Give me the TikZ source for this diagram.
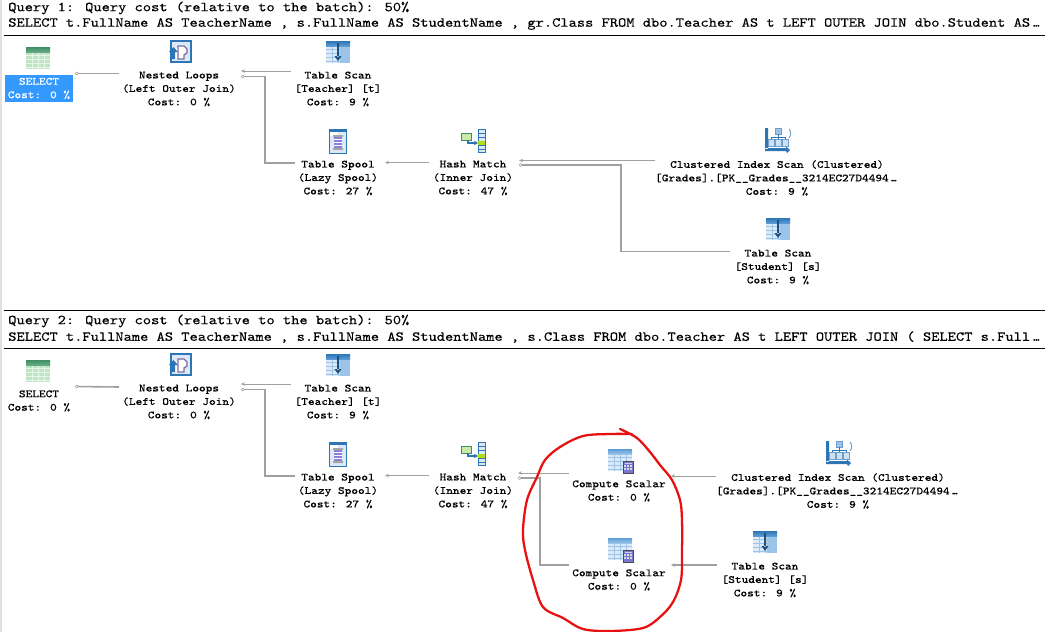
\documentclass[tikz,border=0pt]{standalone}
\usepackage{fontspec}
\setmainfont[FakeStretch=1.143,FakeBold=0.25]{Latin Modern Mono}
\usetikzlibrary{calc,arrows.meta}
\newcommand{\tightdots}{.\kern-.45em.\kern-.45em.}
\definecolor{conn}{HTML}{A0A0A0}
\definecolor{selblue}{HTML}{3399FF}
\definecolor{icoblue}{HTML}{2E75B6}
\definecolor{icolight}{HTML}{DCEAF8}
\definecolor{icomid}{HTML}{9CC3E8}
\definecolor{icohead}{HTML}{5B9BD5}
\definecolor{icogreen}{HTML}{BFE6C4}
\definecolor{icogrid}{HTML}{E8F6EA}
\definecolor{icodark}{HTML}{3F8F66}
\definecolor{icoviolet}{HTML}{8A80D8}
\definecolor{docviolet}{HTML}{7A6E9E}
\definecolor{penred}{HTML}{E81010}
\tikzset{
  x=0.75pt,y=-0.75pt,
  qtext/.style={anchor=west,inner sep=0pt,font=\fontsize{10.3}{12}\selectfont},
  optext/.style={align=center,inner sep=0pt,font=\fontsize{8.25}{10.1}\selectfont,text=black},
  thinconn/.style={draw=conn,line width=0.6pt,-{Stealth[length=3pt,width=2.6pt]}},
  thickconn/.style={draw=conn,line width=1.2pt,-{Circle[length=2.6pt,width=2.6pt,open,fill=white,line width=0.4pt]}},
  rule/.style={draw=black,line width=0.75pt},
}
% icons, all centred on the given point
\newcommand{\tablegrid}[2]{% fill, line
  \fill[#1] (-12,-11) rectangle (12,11);
  \foreach \gy in {-3,1,5,9} \draw[#2,line width=0.3pt] (-12,\gy) -- (12,\gy);
  \foreach \gx in {-6,0,6} \draw[#2,line width=0.3pt] (\gx,-6) -- (\gx,11);
}
\newcommand{\iconselect}[2]{\begin{scope}[shift={(#1,#2)}]
  \tablegrid{icogreen}{icogrid}
  \shade[top color=icodark,bottom color=icodark!70!icogreen] (-12,-11) rectangle (12,-6);
\end{scope}}
\newcommand{\iconscan}[2]{\begin{scope}[shift={(#1,#2)}]
  \tablegrid{icolight}{icomid}
  \fill[icomid] (2,-6) rectangle (12,11);
  \shade[top color=icoblue,bottom color=icohead] (-12,-11) rectangle (12,-6);
  \fill[icoblue!70!black] (-1,-9) rectangle (1,5) (-3.5,4) -- (3.5,4) -- (0,9) -- cycle;
\end{scope}}
\newcommand{\iconloops}[2]{\begin{scope}[shift={(#1,#2)}]
  \draw[icoblue,fill=icolight,line width=1pt] (-9,-11) rectangle (11,10);
  \fill[white] (-7,-4) rectangle (-2,7);
  \fill[icoblue] (-6.5,-5) -- (-2,0) -- (-5,0) -- (-5,7) -- (-8,7) -- (-8,0) -- (-11,0) -- cycle;
  \draw[docviolet,fill=white,line width=1pt] (-2,-6) -- (4,-6) -- (7,-3) -- (7,1) -- (4,3) -- (4,7) -- (-2,7) -- cycle;
\end{scope}}
\newcommand{\iconspool}[2]{\begin{scope}[shift={(#1,#2)}]
  \draw[icoblue,fill=icolight,line width=0.7pt] (-8.5,-12) rectangle (8.5,12);
  \fill[icoblue] (-8.5,-12) rectangle (8.5,-9);
  \fill[white] (-8,-9) rectangle (0,-5);
  \fill[gray!70] (-5,-6) rectangle (5,-4) (-5,7) rectangle (5,9);
  \fill[icoviolet] (-4,-4) rectangle (4,7);
  \foreach \gy in {-2,1,4} \draw[white,line width=0.3pt] (-4,\gy) -- (4,\gy);
\end{scope}}
\newcommand{\iconhash}[2]{\begin{scope}[shift={(#1,#2)}]
  \draw[icoblue,fill=icolight,line width=0.5pt] (5,-11.5) rectangle (12,11.5);
  \foreach \gy in {-8,-4,4,8} \draw[icoblue,line width=0.3pt] (5,\gy) -- (12,\gy);
  \fill[yellow!70!green] (5.3,-0.5) rectangle (11.7,3.5);
  \draw[icodark,fill=yellow!40!green!35,line width=0.6pt] (-12,-8) rectangle (-2,-1);
  \draw[icoblue,line width=1.1pt,-{Stealth[length=3pt,width=3.5pt]}] (-5,-1) -- (-5,2) -- (5,2);
\end{scope}}
\newcommand{\iconclustered}[2]{\begin{scope}[shift={(#1,#2)}]
  \fill[icoblue] (-12,-12) rectangle (-9,9) (-12,8) -- (9,8) -- (9,6.5) -- (13,10) -- (10,13) -- (9,11) -- (-12,11) -- cycle;
  \draw[icoblue!70,line width=0.5pt,fill=icomid] (-2,-12) rectangle (4,-6);
  \draw[icoblue,line width=0.6pt] (1,-6) -- (1,-3) (-6,-3) -- (8,-3) (-6,-3) -- (-6,-1) (8,-3) -- (8,-1) (1,-3) -- (1,-1);
  \draw[icoblue!70,line width=0.5pt,fill=icomid!50] (-9,-1) rectangle (-3,6) (-2,-1) rectangle (4,6) (5,-1) rectangle (11,6);
  \draw[icoblue!70,line width=0.7pt] (12,-2) arc[start angle=40,end angle=-40,radius=7];
\end{scope}}
\newcommand{\iconcompute}[2]{\begin{scope}[shift={(#1,#2)}]
  \tablegrid{icolight}{icomid}
  \shade[top color=icohead,bottom color=icomid] (-12,-11) rectangle (12,-6);
  \draw[gray!60!black,fill=gray!50!blue!70,line width=0.4pt] (3,1) rectangle (13,13);
  \foreach \gy in {6,9} \foreach \gx in {5,8,11} \fill[white!70!gray] (\gx-0.8,\gy-0.8) rectangle (\gx+0.8,\gy+0.8);
  \fill[white!80!blue] (4.5,2.5) rectangle (11.5,4.2);
\end{scope}}
\begin{document}
\begin{tikzpicture}
\useasboundingbox (0,0) rectangle (1050,632);
\fill[white] (0,0) rectangle (1050,632);
\fill[black!12] (0,0) rectangle (1.5,632);
% headers
\node[qtext] (q1a) at (8,8) {Query 1: Query cost (relative to the batch): 50\%};
\node[qtext] (q1b) at (8,24) {SELECT t.FullName AS TeacherName , s.FullName AS StudentName , gr.Class FROM dbo.Teacher AS t LEFT OUTER JOIN dbo.Student AS\tightdots};
\draw[rule] (4,35.5) -- (1045,35.5);
\draw[rule] (4,310.5) -- (1045,310.5);
\node[qtext] (q2a) at (8,321) {Query 2: Query cost (relative to the batch): 50\%};
\node[qtext] (q2b) at (8,337) {SELECT t.FullName AS TeacherName , s.FullName AS StudentName , s.Class FROM dbo.Teacher AS t LEFT OUTER JOIN ( SELECT s.Full\tightdots};
\draw[rule] (4,348.5) -- (1045,348.5);
% query 1 icons
\iconselect{38}{58}
\iconloops{180}{52}
\iconscan{338}{52}
\iconspool{338}{141}
\iconhash{473}{141}
\iconclustered{777}{140}
\iconscan{778}{229}
% query 2 icons
\iconselect{38}{371}
\iconloops{180}{365}
\iconscan{338}{365}
\iconspool{338}{454}
\iconhash{473}{454}
\iconcompute{620}{460}
\iconcompute{620}{549}
\iconclustered{838}{453}
\iconscan{765}{542}
% query 1 operators
\fill[selblue] (5,75) rectangle (73,102);
\node[optext,text=white] (sela) at (39,88.5) {SELECT\\Cost: 0 \%};
\node[optext] (nla) at (179,89) {Nested Loops\\(Left Outer Join)\\Cost: 0 \%};
\node[optext] (tsa) at (338,89) {Table Scan\\{[Teacher] [t]}\\Cost: 9 \%};
\node[optext] (spa) at (338,178) {Table Spool\\(Lazy Spool)\\Cost: 27 \%};
\node[optext] (hma) at (473,178) {Hash Match\\(Inner Join)\\Cost: 47 \%};
\node[optext] (cia) at (777,178) {Clustered Index Scan (Clustered)\\{[Grades].[PK\_\_Grades\_\_3214EC27D4494\tightdots}\\Cost: 9 \%};
\node[optext] (tta) at (778,267) {Table Scan\\{[Student] [s]}\\Cost: 9 \%};
% query 2 operators
\node[optext] (selb) at (39,401) {SELECT\\Cost: 0 \%};
\node[optext] (nlb) at (179,402) {Nested Loops\\(Left Outer Join)\\Cost: 0 \%};
\node[optext] (tsb) at (338,402) {Table Scan\\{[Teacher] [t]}\\Cost: 9 \%};
\node[optext] (spb) at (338,491) {Table Spool\\(Lazy Spool)\\Cost: 27 \%};
\node[optext] (hmb) at (473,491) {Hash Match\\(Inner Join)\\Cost: 47 \%};
\node[optext] (csa) at (619,491) {Compute Scalar\\Cost: 0 \%};
\node[optext] (csb) at (619,580) {Compute Scalar\\Cost: 0 \%};
\node[optext] (cib) at (838,491) {Clustered Index Scan (Clustered)\\{[Grades].[PK\_\_Grades\_\_3214EC27D4494\tightdots}\\Cost: 9 \%};
\node[optext] (ttb) at (765,580) {Table Scan\\{[Student] [s]}\\Cost: 9 \%};
% query 1 connectors
\draw[thickconn] ($(nla)+(-60,-15.5)$) -- ($(sela)+(36,-15)$);
\draw[thinconn] ($(tsa)+(-47,-18)$) -- ($(nla)+(62,-18)$);
\draw[thickconn] ($(spa)+(-43,-15)$) -| ($(nla)+(86,-12.5)$) -- ($(nla)+(62,-12.5)$);
\draw[thinconn] ($(hma)+(-44,-15.5)$) -- ($(spa)+(47,-15.5)$);
\draw[thinconn] ($(cia)+(-122,-17.5)$) -- ($(hma)+(46,-17.5)$);
\draw[thickconn] ($(tta)+(-48,-15.5)$) -| ($(hma)+(148,-13)$) -- ($(hma)+(46,-13)$);
% query 2 connectors
\draw[thickconn] ($(nlb)+(-60,-15)$) -- ($(selb)+(36,-14.5)$);
\draw[thinconn] ($(tsb)+(-47,-18)$) -- ($(nlb)+(62,-18)$);
\draw[thickconn] ($(spb)+(-43,-15)$) -| ($(nlb)+(86,-12.5)$) -- ($(nlb)+(62,-12.5)$);
\draw[thinconn] ($(hmb)+(-44,-15.5)$) -- ($(spb)+(47,-15.5)$);
\draw[thinconn] ($(csa)+(-50,-18)$) -- ($(hmb)+(45,-18)$);
\draw[thickconn,line width=0.9pt] ($(csb)+(-50,-15)$) -| ($(hmb)+(67,-13)$) -- ($(hmb)+(45,-13)$);
\draw[thinconn] ($(cib)+(-122,-15)$) -- ($(csa)+(52,-15)$);
\draw[thinconn,line width=1pt] ($(ttb)+(-48,-15)$) -- ($(csb)+(52,-15)$);
% hand-drawn red circle
\draw[penred,line width=1.7pt,line cap=round,line join=round] plot[smooth,tension=0.55] coordinates {
 (620,429) (637,438) (650,452) (660,465) (672,480) (680,500) (682,520) (682,553) (681,580)
 (673,602) (660,617) (643,628) (610,631) (583,629) (563,618) (543,607) (533,580) (525,550)
 (523,530) (527,500) (537,477) (545,460) (560,447) (583,436) (610,434) (632,434)};
\end{tikzpicture}
\end{document}
